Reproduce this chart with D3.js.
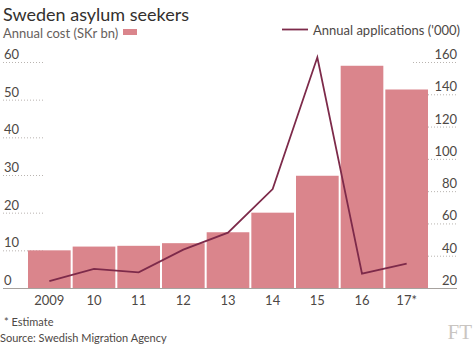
<!DOCTYPE html>
<html lang="en">
    <head>
        <meta charset="UTF-8" />
        <title>Sweden asylum seekers</title>
        <script src="https://d3js.org/d3.v7.min.js"></script>
        <style>
            body { margin: 0; background: #fff; }
            svg { display: block; font-family: "Lato", "Open Sans", sans-serif; }
            .grid { stroke: #b9b4b0; stroke-dasharray: 1 2; stroke-width: 1; }
            .tick-label { fill: #4d4845; font-size: 13px; }
        </style>
    </head>
    <body>
        <svg width="474" height="347"></svg>

        <script>
            // data
            const years = ["2009", "10", "11", "12", "13", "14", "15", "16", "17*"];
            const cost = [10.0, 11.0, 11.2, 11.9, 14.8, 20.0, 29.8, 59.0, 52.7];
            const applications = [24.2, 31.8, 29.7, 43.8, 54.3, 81.3, 162.9, 28.9, 35.1];
            const leftTicks = [0, 10, 20, 30, 40, 50, 60];
            const rightTicks = [20, 40, 60, 80, 100, 120, 140, 160];

            const svg = d3.select("svg");

            const x = d3.scaleBand().domain(years).range([28, 428]).paddingInner(0.045);
            const yLeft = d3.scaleLinear().domain([0, 60]).range([288, 62]);
            const yRight = d3.scaleLinear().domain([20, 160]).range([288, 62]);

            // gridlines (short dotted segments under the tick labels)
            svg.append("g").selectAll("line").data(leftTicks.slice(1)).join("line")
                .attr("class", "grid")
                .attr("x1", 3).attr("x2", 43)
                .attr("y1", (d) => yLeft(d) + 0.5).attr("y2", (d) => yLeft(d) + 0.5);
            svg.append("g").selectAll("line").data(rightTicks.slice(1)).join("line")
                .attr("class", "grid")
                .attr("x1", 413).attr("x2", 457)
                .attr("y1", (d) => yRight(d) + 0.5).attr("y2", (d) => yRight(d) + 0.5);

            // bars
            svg.append("g").selectAll("rect").data(cost).join("rect")
                .attr("x", (d, i) => x(years[i]))
                .attr("width", x.bandwidth())
                .attr("y", (d) => yLeft(d))
                .attr("height", (d) => yLeft(0) - yLeft(d))
                .attr("fill", "#da858c");

            // baseline
            svg.append("line")
                .attr("x1", 3).attr("x2", 457)
                .attr("y1", yLeft(0) + 0.5).attr("y2", yLeft(0) + 0.5)
                .attr("stroke", "#a7a29e");

            // applications line
            const line = d3.line()
                .x((d, i) => x(years[i]) + x.bandwidth() / 2)
                .y((d) => yRight(d));
            svg.append("path")
                .datum(applications)
                .attr("d", line)
                .attr("fill", "none")
                .attr("stroke", "#7d2a4a")
                .attr("stroke-width", 1.8)
                .attr("stroke-linejoin", "miter");

            // axis labels
            svg.append("g").selectAll("text").data(leftTicks).join("text")
                .attr("class", "tick-label")
                .attr("x", 4)
                .attr("y", (d) => yLeft(d) - 3)
                .text((d) => d);
            svg.append("g").selectAll("text").data(rightTicks).join("text")
                .attr("class", "tick-label")
                .attr("text-anchor", "end")
                .attr("x", 457)
                .attr("y", (d) => yRight(d) - 3)
                .text((d) => d);
            svg.append("g").selectAll("text").data(years).join("text")
                .attr("class", "tick-label")
                .attr("text-anchor", "middle")
                .attr("x", (d) => x(d) + x.bandwidth() / 2)
                .attr("y", 305)
                .text((d) => d);

            // titles
            svg.append("text").attr("x", 3).attr("y", 21)
                .attr("font-size", 18).attr("fill", "#33302e")
                .text("Sweden asylum seekers");
            svg.append("text").attr("x", 3).attr("y", 38)
                .attr("font-size", 13).attr("fill", "#66605c")
                .text("Annual cost (SKr bn)");
            svg.append("rect").attr("x", 123).attr("y", 29).attr("width", 14).attr("height", 6)
                .attr("fill", "#da858c");

            // legend for line
            svg.append("line").attr("x1", 282).attr("x2", 308).attr("y1", 29.5).attr("y2", 29.5)
                .attr("stroke", "#7d2a4a").attr("stroke-width", 1.8);
            svg.append("text").attr("x", 313).attr("y", 35)
                .attr("font-size", 13).attr("fill", "#4d4845")
                .text("Annual applications ('000)");

            // footnotes
            svg.append("text").attr("x", 4).attr("y", 326)
                .attr("font-size", 11).attr("fill", "#4d4845")
                .text("* Estimate");
            svg.append("text").attr("x", 0).attr("y", 342)
                .attr("font-size", 11).attr("fill", "#4d4845")
                .text("Source: Swedish Migration Agency");
            svg.append("text").attr("x", 472).attr("y", 339)
                .attr("text-anchor", "end")
                .attr("font-family", "Liberation Serif, serif")
                .attr("font-size", 21).attr("fill", "#c9c5c1")
                .text("FT");
        </script>
    </body>
</html>
